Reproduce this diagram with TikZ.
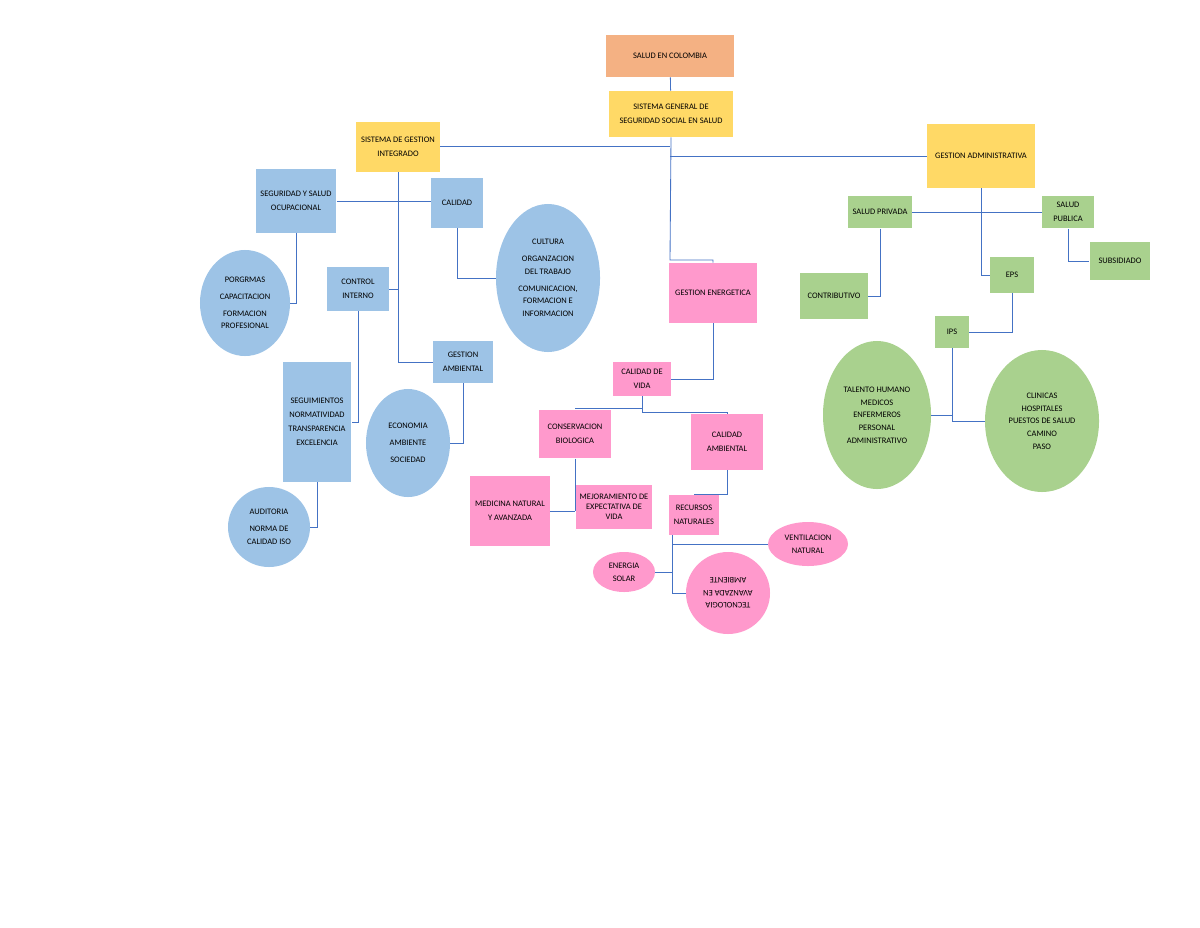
\documentclass[tikz,border=0pt]{standalone}
\usepackage{fontspec}
\setmainfont{Carlito}
\usetikzlibrary{shapes.geometric}

\definecolor{orng}{HTML}{F4B183}
\definecolor{ylw}{HTML}{FFD966}
\definecolor{blu}{HTML}{9DC3E6}
\definecolor{pnk}{HTML}{FF99CC}
\definecolor{grn}{HTML}{A9D18E}
\definecolor{wire}{HTML}{4472C4}

\tikzset{
  box/.style={rectangle, inner sep=1pt, align=center, font=\fontsize{6}{10}\selectfont},
  oval/.style={ellipse, inner sep=0pt, align=center, font=\fontsize{6}{12}\selectfont},
  link/.style={draw=wire, line width=0.6pt}
}

\begin{document}
\begin{tikzpicture}[x=0.025cm,y=-0.025cm]
\useasboundingbox (0,0) rectangle (1200,927);

% tronco
\node[box, fill=orng, minimum width=3.18cm, minimum height=1.05cm] (col) at (670,56) {SALUD EN COLOMBIA};
\node[box, fill=ylw, minimum width=3.1cm, minimum height=1.15cm] (sgs) at (671,114) {SISTEMA GENERAL DE\\SEGURIDAD SOCIAL EN SALUD};
\node[box, fill=ylw, minimum width=2.1cm, minimum height=1.25cm] (sgi) at (398,147) {SISTEMA DE GESTION\\INTEGRADO};
\node[box, fill=ylw, minimum width=2.7cm, minimum height=1.6cm] (gad) at (981,156) {GESTION ADMINISTRATIVA};

% gestion integrado
\node[box, fill=blu, minimum width=2.02cm, minimum height=1.58cm] (sso) at (296,201) {SEGURIDAD Y SALUD\\OCUPACIONAL};
\node[box, fill=blu, minimum width=1.28cm, minimum height=1.25cm] (cal) at (457,203) {CALIDAD};
\node[oval, fill=blu, minimum width=2.6cm, minimum height=3.7cm] (cul) at (548,278) {CULTURA\\ORGANZACION\\[-3pt]DEL TRABAJO\\COMUNICACION,\\[-3pt]FORMACION E\\[-3pt]INFORMACION};
\node[oval, fill=blu, minimum width=2.25cm, minimum height=2.65cm] (prg) at (245,303) {PORGRMAS\\CAPACITACION\\FORMACION\\[-3pt]PROFESIONAL};
\node[box, fill=blu, minimum width=1.55cm, minimum height=1.08cm] (cin) at (358,289) {CONTROL\\INTERNO};
\node[box, fill=blu, minimum width=1.48cm, minimum height=1.05cm] (gam) at (463,362) {GESTION\\AMBIENTAL};
\node[box, fill=blu, minimum width=1.72cm, minimum height=3cm] (seg) at (317,422) {SEGUIMIENTOS\\NORMATIVIDAD\\TRANSPARENCIA\\EXCELENCIA};
\node[oval, fill=blu, minimum width=2.1cm, minimum height=2.7cm] (eco) at (408,443) {ECONOMIA\\AMBIENTE\\SOCIEDAD};
\node[oval, fill=blu, minimum width=2.05cm, minimum height=2cm] (aud) at (269,527) {AUDITORIA\\NORMA DE\\[-3pt]CALIDAD ISO};

% gestion energetica
\node[box, fill=pnk, minimum width=2.22cm, minimum height=1.5cm] (gen) at (713,293) {GESTION ENERGETICA};
\node[box, fill=pnk, minimum width=1.45cm, minimum height=0.85cm] (cdv) at (642,379) {CALIDAD DE\\VIDA};
\node[box, fill=pnk, minimum width=1.8cm, minimum height=1.22cm] (cbi) at (575,434) {CONSERVACION\\BIOLOGICA};
\node[box, fill=pnk, minimum width=1.82cm, minimum height=1.38cm] (cam) at (727,442) {CALIDAD\\AMBIENTAL};
\node[box, fill=pnk, minimum width=1.98cm, minimum height=1.75cm] (med) at (510,511) {MEDICINA NATURAL\\Y AVANZADA};
\node[box, fill=pnk, minimum width=1.92cm, minimum height=1.1cm] (mej) at (614,507) {MEJORAMIENTO DE\\[-3pt]EXPECTATIVA DE\\[-3pt]VIDA};
\node[box, fill=pnk, minimum width=1.25cm, minimum height=1cm] (rec) at (694,515) {RECURSOS\\NATURALES};
\node[oval, fill=pnk, minimum width=2cm, minimum height=1.1cm] (ven) at (808,544) {VENTILACION\\[-3pt]NATURAL};
\node[oval, fill=pnk, minimum width=1.55cm, minimum height=1cm] (sol) at (624,572) {ENERGIA\\[-3pt]SOLAR};
\node[oval, fill=pnk, minimum width=2.1cm, minimum height=2.05cm] (tec) at (728,593) {};
\node[align=center, rotate=180, font=\fontsize{6}{9}\selectfont] at (tec) {TECNOLOGIA\\AVANZADA EN\\AMBIENTE};

% gestion administrativa
\node[box, fill=grn, minimum width=1.6cm, minimum height=0.82cm] (spr) at (880,212) {SALUD PRIVADA};
\node[box, fill=grn, minimum width=1.3cm, minimum height=0.82cm] (spu) at (1068,212) {SALUD\\PUBLICA};
\node[box, fill=grn, minimum width=1.52cm, minimum height=0.95cm] (sub) at (1120,261) {SUBSIDIADO};
\node[box, fill=grn, minimum width=1.68cm, minimum height=1.15cm] (con) at (834,296) {CONTRIBUTIVO};
\node[box, fill=grn, minimum width=1.08cm, minimum height=0.88cm] (eps) at (1012,275) {EPS};
\node[box, fill=grn, minimum width=0.83cm, minimum height=0.8cm] (ips) at (952,332) {IPS};
\node[oval, fill=grn, minimum width=2.7cm, minimum height=3.7cm] (tal) at (877,415) {TALENTO HUMANO\\[-3pt]MEDICOS\\[-3pt]ENFERMEROS\\[-3pt]PERSONAL\\[-3pt]ADMINISTRATIVO};
\node[oval, fill=grn, minimum width=2.85cm, minimum height=3.55cm] (cli) at (1042,421) {CLINICAS\\[-3pt]HOSPITALES\\[-3pt]PUESTOS DE SALUD\\[-3pt]CAMINO\\[-3pt]PASO};

% conectores
\coordinate (tr) at (670,146);
\draw[link] (col) -- (sgs);
\draw[link] (sgi.east |- tr) -- (tr);
\draw[link] (sgs.south) -- (670,260) -| (gen.north);
\draw[link] (670,156) -- (gad.west |- 0,156);
\draw[link] (sgi.south) |- (gam.west);
\draw[link] (sso.east) -- (cal.west |- sso.east);
\draw[link] (cin.east) -- (398,289);
\draw[link] (cal.south) |- (cul.west);
\draw[link] (sso.south) |- (prg.east);
\draw[link] (cin.south) |- (seg.east);
\draw[link] (gam.south) |- (eco.east);
\draw[link] (seg.south) |- (aud.east);

\draw[link] (gen.south) |- (cdv.east);
\draw[link] (cdv.south) -- (642,408) -| (cbi.north);
\draw[link] (642,408) -- (642,412) -| (cam.north);
\draw[link] (cbi.south) -- (575,511);
\draw[link] (med.east) -- (mej.west |- med.east);
\draw[link] (cam.south) |- (rec.north);
\draw[link] (rec.south west) ++(4,0) coordinate (rs) -- (rs |- tec.west) -- (tec.west);
\draw[link] (rs |- ven.west) -- (ven.west);
\draw[link] (rs |- sol.east) -- (sol.east);

\draw[link] (spr.east) -- (spu.west);
\draw[link] (gad.south) |- (eps.west);
\draw[link] (spu.south) |- (sub.west);
\draw[link] (spr.south) |- (con.east);
\draw[link] (eps.south) |- (ips.east);
\draw[link] (ips.south) |- (cli.west);
\draw[link] (tal.east) -- (ips.south |- tal.east);
\end{tikzpicture}
\end{document}
